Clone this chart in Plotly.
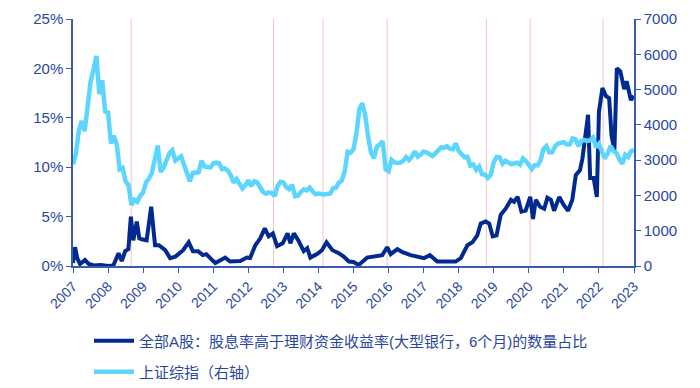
import plotly.graph_objects as go

# --- data (x in decimal years, as positioned on the chart) ---
dark_x = [2007.00, 2007.06, 2007.12, 2007.20, 2007.34, 2007.45, 2007.60, 2007.80, 2008.00, 2008.15,
          2008.30, 2008.39, 2008.49, 2008.58, 2008.65, 2008.72, 2008.82, 2008.89, 2008.96, 2009.10,
          2009.23, 2009.34, 2009.45, 2009.63, 2009.77, 2009.92, 2010.14, 2010.30, 2010.42, 2010.57,
          2010.70, 2010.80, 2011.00, 2011.06, 2011.34, 2011.48, 2011.77, 2011.96, 2012.05, 2012.20,
          2012.34, 2012.47, 2012.58, 2012.70, 2012.82, 2012.98, 2013.12, 2013.20, 2013.30, 2013.44,
          2013.58, 2013.68, 2013.77, 2013.96, 2014.10, 2014.23, 2014.40, 2014.58, 2014.72, 2014.87,
          2015.00, 2015.15, 2015.39, 2015.63, 2015.82, 2015.96, 2016.06, 2016.25, 2016.40, 2016.63,
          2016.87, 2017.01, 2017.18, 2017.39, 2017.63, 2017.91, 2018.06, 2018.25, 2018.39, 2018.53,
          2018.63, 2018.77, 2018.87, 2018.97, 2019.08, 2019.20, 2019.34, 2019.49, 2019.58, 2019.68,
          2019.79, 2019.91, 2020.04, 2020.12, 2020.20, 2020.32, 2020.44, 2020.53, 2020.63, 2020.72,
          2020.87, 2020.99, 2021.12, 2021.24, 2021.34, 2021.46, 2021.53, 2021.62, 2021.69, 2021.75,
          2021.85, 2021.94, 2022.00, 2022.10, 2022.20, 2022.29, 2022.36, 2022.44, 2022.51, 2022.61,
          2022.72, 2022.79, 2022.91, 2023.00]
dark_y = [0.3, 1.9, 0.8, 0.2, 0.6, 0.2, 0.05, 0.1, 0.0, 0.05,
          1.3, 0.5, 1.5, 1.7, 5.0, 2.6, 4.5, 2.8, 2.7, 2.6,
          6.0, 2.1, 2.1, 1.6, 0.8, 0.95, 1.6, 2.4, 1.5, 1.5,
          1.1, 1.2, 0.5, 0.3, 0.85, 0.45, 0.5, 0.85, 0.8, 2.1,
          2.8, 3.8, 3.0, 3.3, 2.0, 2.3, 3.3, 2.3, 3.3, 2.5,
          1.5, 1.8, 0.85, 1.2, 1.6, 2.4, 1.6, 1.3, 0.95, 0.45,
          0.4, 0.1, 0.85, 1.0, 1.1, 1.9, 1.2, 1.7, 1.4, 1.1,
          0.85, 0.8, 1.1, 0.45, 0.45, 0.45, 0.8, 2.1, 2.4, 3.1,
          4.3, 4.5, 4.3, 3.0, 3.1, 5.2, 5.8, 6.7, 6.5, 7.0,
          5.5, 5.6, 7.0, 4.75, 6.7, 6.0, 5.8, 6.9, 6.7, 5.6,
          7.0, 6.2, 5.6, 6.7, 9.2, 9.7, 10.9, 13.2, 15.3, 8.9,
          8.9, 7.0, 15.6, 18.0, 17.2, 17.0, 13.2, 11.7, 20.0, 19.7,
          17.9, 18.7, 16.8, 17.2]

# Shanghai Composite, monthly points from the chart's left edge (2007.0) to right edge (2023.0)
sh_start = 2007.0
sh_values = [2881, 3183, 3841, 4109, 3821, 4471, 5218, 5552, 5954, 4871, 5262,
             4383, 4348, 3473, 3693, 3433, 2736, 2775, 2397, 2293, 1729, 1871, 1821,
             1991, 2082, 2373, 2477, 2633, 2959, 3412, 2667, 2779, 2996, 3195, 3277,
             2989, 3051, 3110, 2871, 2592, 2398, 2638, 2639, 2656, 2979, 2820, 2808,
             2791, 2905, 2928, 2911, 2743, 2762, 2701, 2568, 2359, 2468, 2333, 2199,
             2292, 2428, 2263, 2397, 2373, 2225, 2103, 2047, 2086, 2069, 1980, 2269,
             2385, 2366, 2237, 2178, 2301, 1979, 1994, 2098, 2175, 2142, 2221, 2116,
             2033, 2056, 2033, 2026, 2039, 2048, 2202, 2218, 2364, 2420, 2683, 3235,
             3210, 3310, 3748, 4442, 4612, 4277, 3664, 3206, 3053, 3383, 3445, 3539,
             2738, 2688, 3004, 2938, 2917, 2930, 2979, 3085, 3005, 3100, 3250, 3104,
             3159, 3242, 3223, 3155, 3117, 3192, 3273, 3361, 3349, 3393, 3317, 3307,
             3481, 3259, 3169, 3082, 3095, 2847, 2876, 2725, 2821, 2603, 2588, 2494,
             2585, 2941, 3091, 3078, 2899, 2979, 2933, 2886, 2905, 2929, 2871, 3050,
             2977, 2880, 2750, 2860, 2852, 2985, 3310, 3396, 3218, 3225, 3392, 3473,
             3483, 3509, 3442, 3447, 3615, 3591, 3397, 3544, 3568, 3547, 3564, 3640,
             3361, 3462, 3253, 3047, 3186, 3399, 3253, 3202, 3024, 2893, 3151, 3089,
             3255, 3280]
sh_x = [sh_start + i / 12 for i in range(len(sh_values))]

event_lines = [2008.66, 2012.72, 2014.13, 2015.96, 2018.79, 2020.04, 2022.12]
year_ticks = list(range(2007, 2024))
left_ticks = [0, 5, 10, 15, 20, 25]
right_ticks = [0, 1000, 2000, 3000, 4000, 5000, 6000, 7000]

name_dark = "全部A股：股息率高于理财资金收益率(大型银行，6个月)的数量占比"
name_light = "上证综指（右轴）"

DARK = "#002A8F"
LIGHT = "#5DD6FF"
AXIS = "#3B5BAE"
TXT = "#2A479F"
FONT = "Liberation Sans, Arial, Noto Sans CJK SC, sans-serif"

fig = go.Figure()
fig.add_trace(go.Scatter(x=dark_x, y=dark_y, mode="lines", name=name_dark,
                         line=dict(color=DARK, width=4), yaxis="y", legend="legend"))
fig.add_trace(go.Scatter(x=sh_x, y=sh_values, mode="lines", name=name_light,
                         line=dict(color=LIGHT, width=4.5), yaxis="y2", legend="legend2"))

for ev in event_lines:
    fig.add_shape(type="line", xref="x", yref="paper", x0=ev, x1=ev, y0=0, y1=1,
                  line=dict(color="#F2C4C4", width=1), layer="below")

legend_common = dict(orientation="v", xref="container", yref="container",
                     xanchor="left", yanchor="middle", itemwidth=40,
                     font=dict(size=15, color=TXT), bgcolor="rgba(0,0,0,0)")

fig.update_layout(
    width=700, height=388,
    margin=dict(l=73, r=66, t=19, b=122, autoexpand=False),
    paper_bgcolor="white", plot_bgcolor="white",
    font=dict(family=FONT, color=TXT, size=14),
    showlegend=True,
    legend=dict(x=89 / 700, y=1 - 341 / 388, **legend_common),
    legend2=dict(x=89 / 700, y=1 - 372 / 388, **legend_common),
    xaxis=dict(range=[2007, 2023], tickvals=year_ticks, ticktext=[str(y) for y in year_ticks],
               tickangle=-45, showgrid=False, zeroline=False, showline=True, automargin=False,
               linecolor=AXIS, linewidth=1.5, ticks="outside", ticklen=5, tickcolor=AXIS,
               tickfont=dict(size=14, color=TXT)),
    yaxis=dict(range=[0, 25], tickvals=left_ticks, ticktext=[f"{v}%" for v in left_ticks],
               showgrid=False, zeroline=False, showline=True, linecolor=AXIS, linewidth=1.5,
               automargin=False,
               ticks="outside", ticklen=5, tickcolor=AXIS, tickfont=dict(size=15, color=TXT)),
    yaxis2=dict(range=[0, 7000], tickvals=right_ticks, overlaying="y", side="right",
                showgrid=False, zeroline=False, showline=True, linecolor=AXIS, linewidth=1.5,
                automargin=False,
                ticks="outside", ticklen=5, tickcolor=AXIS, tickfont=dict(size=15, color=TXT)),
)

fig.write_html("out.html", config={"displayModeBar": False},
               post_script="document.body.style.margin='0';document.body.style.padding='0';")
